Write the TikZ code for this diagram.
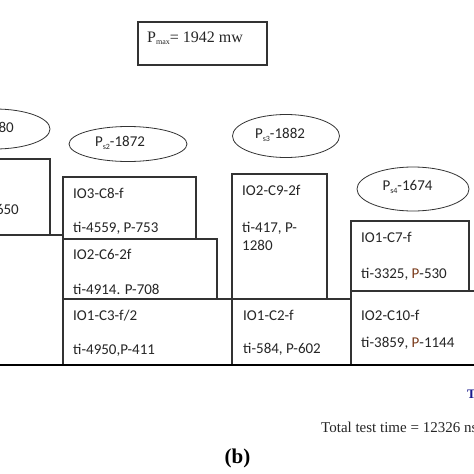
\documentclass[tikz,border=0pt]{standalone}
\usepackage{fontspec}
\newfontfamily\calfont{Carlito}
\newfontfamily\timesfont{Liberation Serif}
\newcommand\mysub[1]{\raisebox{-0.35ex}{\fontsize{8}{8}\selectfont #1}}
\definecolor{linegray}{HTML}{333333}
\definecolor{txtgray}{HTML}{262626}
\definecolor{pbrown}{HTML}{7A3A1A}
\definecolor{tblue}{HTML}{1A1A8C}
\begin{document}
\begin{tikzpicture}[x=1pt,y=-1pt,
  boxline/.style={draw=linegray,line width=1.1pt},
  ell/.style={draw=linegray,line width=0.8pt},
  btxt/.style={anchor=base west,inner sep=0pt,font=\calfont\fontsize{15}{18}\selectfont,text=txtgray},
  etxt/.style={inner sep=0pt,font=\calfont\fontsize{15}{18}\selectfont,text=txtgray}]
\useasboundingbox (0,0) rectangle (474,474);
\clip (0,0) rectangle (474,474);
\fill[white] (0,0) rectangle (474,474);

% Pmax box
\draw[boxline] (138,22) rectangle (267,65);
\node[anchor=base west,inner sep=0pt,font=\timesfont\fontsize{16}{17}\selectfont,text=txtgray] (pmax) at (147,42) {P\raisebox{-0.4ex}{\fontsize{8}{8}\selectfont max}= 1942 mw};

% ellipses
\draw[ell] (-5,129) ellipse [x radius=55, y radius=20];
\node[etxt,anchor=east] (ps1) at (14,129) {P\mysub{s1}-1880};
\draw[ell] (128,144) ellipse [x radius=59, y radius=17.5];
\node[etxt] (ps2) at (120,143) {P\mysub{s2}-1872};
\draw[ell] (286,136) ellipse [x radius=53.5, y radius=21.5];
\node[etxt] (ps3) at (280,135) {P\mysub{s3}-1882};
\draw[ell] (413,189) ellipse [x radius=56, y radius=22];
\node[etxt] (ps4) at (407.5,187) {P\mysub{s4}-1674};

% boxes
\draw[boxline] (-10,159) rectangle (50,235);
\draw[boxline] (50,235) -- (63,235);
\node[btxt,anchor=base east] (b1) at (19,214) {P-650};

\draw[boxline] (63,177) rectangle (196,239);
\node[btxt] (t1a) at (73,198) {IO3-C8-f};
\node[btxt] (t1b) at (73,232) {ti-4559, P-753};

\draw[boxline] (63,239) rectangle (217,299);
\node[btxt] (t2a) at (73,259) {IO2-C6-2f};
\node[btxt] (t2b) at (73,294) {ti-4914. P-708};

\draw[boxline] (63,299) rectangle (232,365);
\node[btxt] (t3a) at (73,320) {IO1-C3-f/2};
\node[btxt] (t3b) at (73,354) {ti-4950,P-411};

\draw[boxline] (232,174) rectangle (327,299);
\node[btxt] (t4a) at (242,195) {IO2-C9-2f};
\node[btxt] (t4b) at (242,232) {ti-417, P-};
\node[btxt] (t4c) at (242,250) {1280};

\draw[boxline] (232,299) rectangle (351,365);
\node[btxt] (t5a) at (243,320) {IO1-C2-f};
\node[btxt] (t5b) at (243,353) {ti-584, P-602};

\draw[boxline] (351,221) rectangle (469,291);
\node[btxt] (t6a) at (361,242) {IO1-C7-f};
\node[btxt] (t6b) at (361,278) {ti-3325, \textcolor{pbrown}{P}-530};

\draw[boxline] (351,291) rectangle (490,365);
\node[btxt] (t7a) at (361,320) {IO2-C10-f};
\node[btxt] (t7b) at (361,347) {ti-3859, \textcolor{pbrown}{P}-1144};

% baseline
\draw[black,line width=1.8pt] (-5,365) -- (480,365);

% bottom texts
\node[anchor=base west,inner sep=0pt,font=\timesfont\bfseries\fontsize{13}{14}\selectfont,text=tblue] (tt) at (467,398) {T};
\node[anchor=base west,inner sep=0pt,font=\timesfont\fontsize{15}{16}\selectfont,text=txtgray] (total) at (321,432) {Total test time = 12326 ns};
\node[anchor=base,inner sep=0pt,font=\timesfont\bfseries\fontsize{21}{24}\selectfont,text=black] (lab) at (237.5,463) {(b)};
\end{tikzpicture}
\end{document}
